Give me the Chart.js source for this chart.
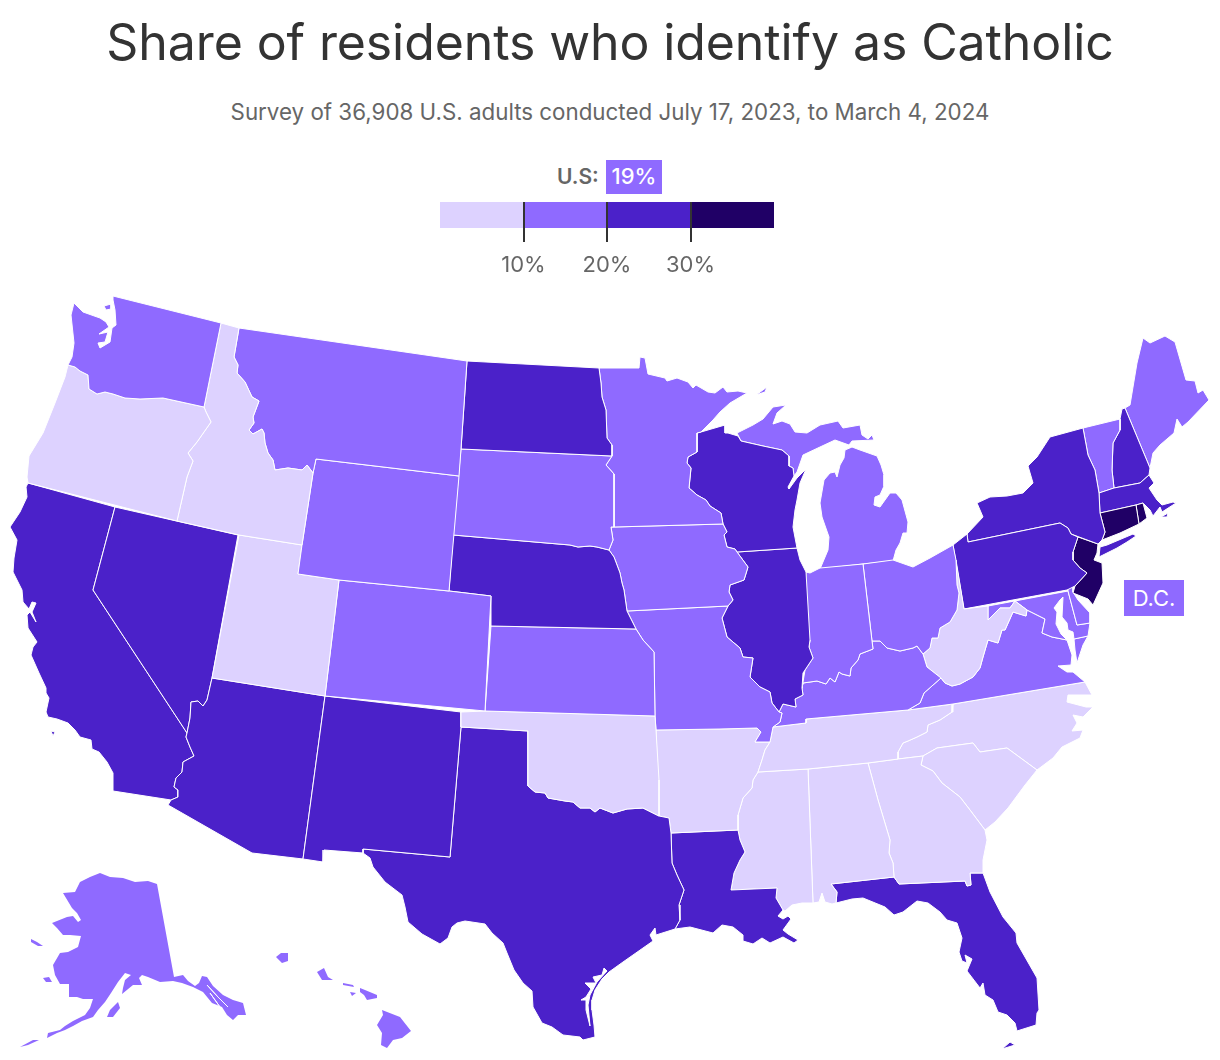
<!DOCTYPE html>
<html>
<head>
<meta charset="utf-8">
<title>Share of residents who identify as Catholic</title>
<script src="https://cdn.jsdelivr.net/npm/chart.js@4"></script>
<style>
  html, body { margin: 0; background: #fff; }
  body { position: relative; width: 1220px; height: 1060px; overflow: hidden; font-family: Inter, "Noto Sans", sans-serif; }
  canvas { position: absolute; }
  #map { left: 0; top: 0; }
  #scale { left: 419px; top: 202px; }
  h1 { position: absolute; left: 0; width: 1220px; top: 12px; margin: 0; text-align: center; font-size: 50px; letter-spacing: -0.1px; line-height: 60px; font-weight: 400; color: #333; }
  .sub { position: absolute; left: 0; width: 1220px; top: 97px; text-align: center; font-size: 22.35px; line-height: 30px; color: #666; }
  .us { position: absolute; left: 557px; top: 160px; line-height: 34px; font-size: 21px; font-weight: 600; color: #666; }
  .pill { position: absolute; background: #8f6aff; color: #fff; text-align: center; font-size: 22px; }
  #us-pill { left: 606px; top: 160px; width: 56px; height: 34px; line-height: 33px; font-weight: 500; }
  #dc-pill { left: 1124px; top: 580px; width: 60px; height: 36px; line-height: 36px; }
</style>
</head>
<body>
<h1>Share of residents who identify as Catholic</h1>
<div class="sub">Survey of 36,908 U.S. adults conducted July 17, 2023, to March 4, 2024</div>
<div class="us">U.S:</div>
<div class="pill" id="us-pill">19%</div>
<canvas id="scale" width="376" height="78"></canvas>
<canvas id="map" width="1220" height="1060"></canvas>
<div class="pill" id="dc-pill">D.C.</div>
<script>
// colour bins for the share values
var binEdges = [10, 20, 30, 40];
var binColors = ["#ddd2ff", "#8f6aff", "#4b21c9", "#200066"];
var scaleTicks = [10, 20, 30];

// estimated shares (%), only the bin can really be read off the map
var usShare = 19;
var dcShare = 12;
var stateShares = {
  AL: 8, AK: 12, AZ: 22, AR: 8, CA: 23, CO: 18, CT: 30, DE: 18, FL: 21, GA: 9, HI: 17, ID: 9, IL: 25,
  IN: 15, IA: 19, KS: 17, KY: 12, LA: 24, ME: 18, MD: 17, MA: 28, MI: 18, MN: 19, MS: 6, MO: 14, MT: 15,
  NE: 21, NV: 23, NH: 23, NJ: 31, NM: 29, NY: 26, NC: 8, ND: 27, OH: 16, OK: 8, OR: 9, PA: 23, RI: 32,
  SC: 6, SD: 19, TN: 7, TX: 23, UT: 9, VT: 18, VA: 13, WA: 14, WV: 6, WI: 22, WY: 14
};

// shared borders, map units, flat x,y lists
var waOr = [204,407, 163,398, 140,399, 125,398, 113,394, 105,392, 97,394, 89,389, 88,375, 80,371, 75,367, 68,365];
var orId = [204,407, 206,412, 211,422, 197,442, 188,453, 193,461, 187,477, 177,521];
var idMt = [239,328, 234,357, 238,365, 237,373, 245,382, 252,397, 259,401, 253,417, 254,423, 249,430, 253,434, 262,429, 264,433, 265,443, 268,453, 273,460, 275,470, 288,468, 302,470, 307,465, 313,473];
var caAz = [187,733, 186,737, 190,747, 194,756, 183,762, 182,772, 176,778, 174,787, 178,790, 178,797, 171,800];
var nvAz = [212,678, 207,700, 203,706, 198,701, 191,702, 190,718, 187,733];
var redRiver = [599,368, 601,383, 602,397, 606,410, 607,438, 612,445, 612,456];
var sdMn = [612,456, 606,465, 614,474, 614,527];
var sdIa = [614,527, 611,527, 613,540, 609,550];
var sdNe = [609,550, 597,547, 590,546, 578,547, 570,545, 453,535];
var neIa = [609,550, 614,557, 620,573, 622,583, 624,590, 627,611];
var mnWi = [701,432, 697,433, 697,452, 688,457, 687,463, 691,468, 689,488, 697,495, 706,500, 710,506, 721,513, 723,524];
var iaWi = [723,524, 727,532, 724,535, 727,547, 735,549, 737,552];
var iaIl = [737,552, 748,567, 744,580, 730,585, 729,592, 733,600, 728,606];
var moIl = [728,606, 722,618, 727,637, 740,648, 743,657, 753,658, 750,677, 760,687, 770,692, 772,703, 779,712];
var ilKy = [779,712, 783,704, 796,707, 795,699, 803,695, 802,688];
var ilIn = [802,688, 803,673, 813,658, 809,647, 810,640, 806,572];
var inKy = [802,688, 803,683, 817,681, 826,684, 830,678, 835,682, 839,672, 842,674, 850,676, 851,668, 858,660, 860,654, 873,649, 872,641];
var ohKy = [872,641, 880,641, 887,648, 900,651, 913,648, 917,646, 923,654];
var ohWv = [957,585, 959,593, 957,610, 950,622, 940,628, 938,638, 932,638, 930,648, 923,654];
var wvKy = [923,654, 927,667, 941,678];
var wvVa = [941,678, 945,683, 952,686, 960,684, 973,677, 980,668, 983,657, 988,640, 998,643, 1002,630, 1005,630, 1013,612, 1026,616, 1027,610];
var wvMd = [988,606, 988,620, 1000,608, 1010,608, 1015,601, 1027,610];
var kyVa = [941,678, 924,693, 920,703, 908,710];
var kyTn = [908,710, 806,719, 806,723, 773,727];
var moKy = [779,712, 782,713, 780,722, 773,727];
var tnAr = [773,727, 770,742, 765,750, 762,760, 758,772];
var tnNc = [953,704, 952,712, 940,720, 928,725, 927,732, 917,737, 908,741, 903,743, 898,752, 898,759];
var arMs = [758,772, 753,780, 752,788, 743,798, 738,815, 738,830];
var laMs = [738,830, 740,840, 745,852, 740,860, 734,873, 731,890, 777,888, 776,898, 783,910];
var okTx = [528,731, 528,780, 528,786, 535,792, 545,793, 548,798, 565,801, 573,802, 580,808, 590,808, 595,812, 600,808, 613,813, 627,809, 643,808, 659,816];
var arTx = [659,816, 669,818, 671,833];
var txLa = [671,833, 672,863, 677,875, 684,890, 679,905, 680,920, 675,929];
var alGa = [868,763, 878,800, 890,840, 889,853, 893,863, 894,877];
var gaFl = [894,877, 899,884, 965,881, 967,886, 971,885, 970,873, 983,873];
var alFl = [894,877, 831,884, 837,892, 836,903];
var gaSc = [921,765, 933,771, 942,783, 960,797, 970,810, 985,830];
var ncSc = [923,756, 937,748, 973,743, 980,752, 1007,748, 1037,770];
var nyPa = [968,542, 1060,523, 1068,528, 1071,534, 1078,537];
var paNj = [1078,537, 1073,552, 1073,560, 1080,568, 1087,573, 1075,586];
var nyVt = [1083,428, 1088,455, 1095,470, 1099,493];
var nyCt = [1100,513, 1105,532, 1102,540];
var vtNh = [1120,419, 1120,430, 1113,443, 1112,470, 1114,488];
var nhMe = [1125,408, 1150,468, 1149,475];
var vaMd = [1027,610, 1045,619, 1042,633, 1052,637, 1067,640];

function rev(list) {
  var out = [];
  for (var i = list.length - 2; i >= 0; i -= 2) out.push(list[i], list[i + 1]);
  return out;
}

// state outlines
var WA = [113,296, 221,323].concat(waOr, [72,357, 74,343, 71,315, 74,303, 83,312, 100,318, 106,322, 109,327, 99,334, 108,332, 105,342, 98,343, 100,348, 110,342, 112,328, 116,325, 115,310, 113,300]);
var WA2 = [104,306, 111,304, 111,309, 106,310];
var OR = rev(waOr).concat(orId.slice(2), [28,483, 27,477, 29,456, 43,433, 55,403, 65,377]);
var ID = [221,323, 239,328].concat(idMt.slice(2), [302,545, 239,535, 177,521], rev(orId));
var MT = [239,328, 467,361, 461,449, 459,476, 316,459].concat(rev(idMt));
var WY = [316,459, 459,476, 449,591, 339,580, 298,574, 302,545, 313,473];
var UT = [239,535, 302,545, 298,574, 339,580, 325,696, 212,678];
var CO = [339,580, 449,591, 491,596, 485,711, 325,696];
var ND = [467,361].concat(redRiver, [461,449]);
var SD = [461,449].concat(sdMn, sdIa.slice(2), sdNe.slice(2));
var NE = rev(sdNe).concat(neIa.slice(2), [636,629, 491,626, 491,596, 449,591]);
var KS = [491,626, 636,629, 643,640, 654,652, 655,716, 485,711];
var OK = [461,712, 485,711, 655,716, 656,730, 659,780].concat(rev(okTx), [461,727]);
var NM = [325,696, 461,712, 461,727, 450,857, 363,849, 363,853, 324,850, 323,862, 303,859];
var AZ = [325,696, 303,859, 252,853, 168,805].concat(rev(caAz), rev(nvAz));
var NV = [115,507, 238,535, 212,678].concat(nvAz.slice(2), [93,590]);
var CA = [28,483, 115,507, 93,590].concat(caAz, [113,791, 113,773, 107,762, 99,752, 92,749, 91,740, 80,737, 75,730, 68,723, 57,719, 48,717, 46,712, 49,698, 46,693, 46,688, 39,673, 31,655, 33,647, 37,642, 28,628, 27,615, 30,612, 36,622, 32,612, 36,603, 32,602, 29,609, 23,602, 22,590, 13,572, 14,558, 17,540, 10,527, 20,512, 27,497, 26,487]);
var CA2 = [51,731, 55,732, 53,736];
var TX = [461,727].concat(okTx, arTx.slice(2), txLa.slice(2), [656,935, 655,928, 650,935, 653,941, 643,948, 623,962, 609,972, 602,979, 595,990, 592,1000, 592,1010, 594,1025, 595,1037, 583,1040, 580,1037, 563,1035, 552,1027, 542,1023, 533,1007, 532,991, 523,983, 514,970, 507,953, 503,943, 492,933, 485,924, 465,921, 457,923, 452,927, 448,938, 440,944, 422,934, 408,922, 405,907, 402,895, 385,882, 373,867, 370,858, 363,853, 363,849, 450,857]);
var MN = rev(redRiver).concat([639,368, 640,357, 645,358, 648,374, 665,378, 667,381, 677,378, 688,382, 693,388, 696,385, 708,392, 715,393, 723,387, 727,392, 738,391, 747,393, 730,403, 720,412, 713,420], mnWi, [614,527], rev(sdMn).slice(2));
var MN2 = [756,395, 767,387, 765,392];
var IA = [611,527, 614,527, 723,524].concat(iaWi.slice(2), iaIl.slice(2), [627,611], rev(neIa).slice(2), [613,540]);
var MO = [627,611].concat(moIl, moKy.slice(2), [770,742, 755,742, 761,732, 757,728, 720,729, 656,730, 655,716, 654,652, 643,640, 636,629]);
var WI = [701,432, 725,425, 725,433, 728,433, 738,436, 741,441, 763,446, 782,450, 789,456, 789,466, 793,468, 794,476, 788,487, 789,489, 797,478, 806,469, 800,483, 797,500, 795,510, 793,527, 797,548, 737,552].concat(rev(iaWi).slice(2), rev(mnWi).slice(2));
var IL = [737,552, 797,548, 800,560, 806,572].concat(rev(ilIn).slice(2), rev(ilKy).slice(2), rev(moIl).slice(2), rev(iaIl).slice(2));
var IN = [806,572, 810,573, 820,568, 863,564, 872,641].concat(rev(inKy).slice(2), rev(ilIn).slice(2));
var OH = [863,564, 893,560, 913,567, 930,558, 953,545, 956,560].concat(ohWv, rev(ohKy).slice(2));
var MIup = [741,441, 737,433, 753,425, 763,419, 773,407, 786,405, 777,413, 773,424, 782,421, 790,424, 795,432, 807,433, 820,425, 838,421, 843,428, 860,425, 862,435, 868,439, 872,435, 874,440, 852,441, 849,445, 835,440, 820,447, 803,455, 797,472, 794,476, 793,468, 789,466, 789,456, 782,450, 763,446];
var MIlow = [852,447, 860,450, 877,456, 881,465, 884,475, 884,486, 880,495, 875,497, 874,505, 880,507, 890,493, 896,493, 902,500, 908,522, 907,533, 903,533, 900,543, 896,550, 893,561, 863,564, 820,569, 828,550, 829,537, 822,517, 820,503, 824,480, 830,473, 835,472, 837,477, 840,465, 844,458, 845,450];
var KY = ohKy.concat(wvKy.slice(2), kyVa.slice(2), kyTn.slice(2), rev(moKy).slice(2), ilKy.slice(2), inKy.slice(2, -2));
var WV = [956,560].concat(ohWv, wvKy.slice(2), wvVa, rev(wvMd).slice(2), [964,609]);
var PA = [953,545, 967,534].concat(nyPa, paNj.slice(2), [1067,590, 964,609]);
var NY = [967,534, 983,517, 977,503, 990,497, 1007,496, 1023,493, 1033,483, 1028,466, 1037,457, 1050,437].concat(nyVt, nyCt, [1098,544], rev(nyPa).slice(2));
var NYli = [1099,557, 1100,547, 1107,545, 1133,534, 1136,536, 1127,542, 1117,548];
var NJ = [1078,537, 1098,544, 1097,553, 1094,560, 1102,563, 1103,583, 1093,605, 1088,599, 1073,593].concat(rev(paNj).slice(0, -2));
var CT = [1100,513, 1136,505, 1139,524, 1120,533, 1102,540, 1105,532];
var RI = [1136,505, 1143,503, 1147,518, 1139,524];
var MA = [1099,493, 1114,488, 1140,483, 1149,475, 1154,483, 1149,488, 1157,500, 1162,505, 1173,502, 1176,503, 1162,512, 1160,507, 1153,516, 1150,510, 1143,503, 1136,505, 1100,513];
var MA2 = [1161,517, 1168,513, 1167,517];
var VT = [1083,428].concat(vtNh, [1099,493], rev(nyVt).slice(2, -2));
var NH = [1122,409, 1125,408].concat(nhMe.slice(2), [1140,483], rev(vtNh));
var ME = [1125,408, 1130,405, 1137,363, 1143,338, 1150,343, 1165,336, 1175,342, 1186,380, 1195,381, 1198,393, 1203,390, 1209,400, 1188,422, 1182,427, 1177,419, 1174,433, 1160,445, 1153,453, 1150,468];
var DE = [1068,591, 1068,587, 1073,585, 1073,592, 1078,600, 1090,613, 1090,623, 1077,625];
var MD = [988,606, 1068,591, 1077,625, 1090,623, 1088,636, 1074,639, 1073,632, 1068,630, 1067,623, 1062,617, 1063,597, 1060,600, 1054,608, 1057,612, 1056,624, 1061,634, 1067,640, 1052,637, 1042,633, 1045,619].concat(rev(wvMd));
var VA = vaMd.concat([1072,655, 1071,665, 1058,666, 1067,672, 1073,672, 1085,682, 953,704, 908,710], rev(kyVa).slice(2), wvVa.slice(2));
var VA2 = [1074,639, 1088,636, 1083,645, 1077,663, 1075,650];
var TN = rev(kyTn).concat([953,704], tnNc.slice(2), [868,763, 808,769], rev(tnAr));
var AR = [656,730, 720,729, 757,728, 761,732, 755,742, 770,742].concat(tnAr.slice(4), arMs.slice(2), [671,833, 669,818, 659,816]);
var LA = [671,833].concat(arMs.slice(-2), laMs.slice(2), [778,916, 783,919, 788,916, 791,919, 783,930, 788,934, 798,940, 794,943, 783,937, 770,943, 762,938, 753,944, 743,941, 743,935, 733,927, 722,925, 713,933, 690,927], rev(txLa).slice(0, -2));
var MS = [758,772, 808,769, 813,903, 802,903, 792,905, 785,911, 783,910].concat(rev(laMs).slice(2), rev(arMs).slice(2));
var AL = [808,769].concat(alGa, alFl.slice(2), [832,904, 825,902, 822,893, 819,902, 813,903]);
var GA = alGa.concat(gaFl.slice(2), [983,860, 987,840], rev(gaSc), [923,756, 898,759]);
var SC = ncSc.concat([1025,785, 1008,808, 995,822], rev(gaSc));
var NC = [953,704, 1085,682, 1092,695, 1085,695, 1068,695, 1067,702, 1086,707, 1093,707, 1083,717, 1073,715, 1077,723, 1072,731, 1083,730, 1080,738, 1062,747, 1053,758].concat(rev(ncSc), rev(tnNc).slice(0, -2));
var FL = [831,884].concat(gaFl, [990,892, 1003,917, 1016,933, 1017,943, 1037,978, 1039,1010, 1037,1013, 1036,1025, 1017,1031, 1015,1023, 1007,1015, 998,1012, 993,1000, 985,995, 983,983, 980,988, 967,971, 972,959, 965,955, 967,963, 962,961, 959,952, 962,938, 957,923, 947,920, 940,912, 928,903, 917,901, 903,912, 894,915, 885,907, 863,898, 852,899, 836,903, 837,892]);
var FL2 = [1002,1049, 1010,1042, 1015,1045];

var AK = [157,884, 174,977, 183,975, 188,981, 195,986, 199,983, 202,976, 207,977, 213,986, 223,995, 233,1000, 243,1003, 246,1015, 238,1015, 233,1020, 227,1015, 222,1007, 212,1003, 203,992, 193,987, 182,983, 173,981, 160,982, 148,977, 142,975, 139,978, 142,985, 133,985, 122,994, 123,988, 125,980, 131,975, 125,973, 118,982, 111,993, 105,1002, 98,1010, 93,1017, 82,1021, 73,1026, 65,1030, 57,1033, 47,1038, 48,1033, 60,1030, 65,1026, 73,1021, 85,1015, 90,1008, 93,999, 83,999, 77,997, 69,997, 69,984, 60,984, 55,975, 53,965, 60,953, 68,952, 78,947, 81,936, 70,935, 63,935, 57,928, 52,923, 67,917, 73,916, 78,922, 81,920, 77,913, 72,908, 63,893, 75,892, 80,882, 90,877, 100,873, 110,877, 123,878, 135,882, 148,881];
var AK2 = [107,1017, 110,1010, 118,1002, 120,1008, 113,1017];
var AK3 = [31,939, 37,942, 43,946, 38,946, 31,942];
var AK4 = [43,978, 49,977, 52,982, 46,982];
var AK5 = [20,1047, 33,1040, 39,1040, 28,1045];
var HI1 = [276,957, 281,953, 288,953, 288,961, 282,963];
var HI2 = [317,972, 324,968, 328,977, 333,980, 322,980];
var HI3 = [343,983, 353,985, 354,987, 343,985];
var HI4 = [350,992, 356,993, 352,996];
var HI5 = [360,988, 365,990, 377,995, 377,998, 367,1000, 364,995, 360,992];
var HI6 = [382,1010, 400,1017, 411,1031, 402,1038, 393,1040, 387,1048, 381,1045, 382,1033, 377,1025, 383,1015];

// water drawn over the land
var lagoon = [590,1026, 586,1010, 586,1000, 581,1000, 586,997, 591,989, 585,983, 596,983, 593,977, 602,975, 604,968, 607,971, 597,982, 590,995, 588,1005];
var akChannel1 = [207,985, 218,997, 228,1007, 218,997];
var akChannel2 = [210,993, 220,1007, 210,993];

var stateParts = [
  ["WA", WA], ["WA", WA2], ["OR", OR], ["ID", ID], ["MT", MT], ["WY", WY], ["UT", UT], ["CO", CO], ["ND", ND], ["SD", SD],
  ["NE", NE], ["KS", KS], ["OK", OK], ["NM", NM], ["AZ", AZ], ["NV", NV], ["CA", CA], ["CA", CA2], ["TX", TX], ["MN", MN],
  ["MN", MN2], ["IA", IA], ["MO", MO], ["WI", WI], ["IL", IL], ["IN", IN], ["OH", OH], ["MI", MIup], ["MI", MIlow], ["KY", KY],
  ["WV", WV], ["PA", PA], ["NY", NY], ["NY", NYli], ["NJ", NJ], ["CT", CT], ["RI", RI], ["MA", MA], ["MA", MA2], ["VT", VT],
  ["NH", NH], ["ME", ME], ["DE", DE], ["MD", MD], ["VA", VA], ["VA", VA2], ["TN", TN], ["AR", AR], ["LA", LA], ["MS", MS],
  ["AL", AL], ["GA", GA], ["SC", SC], ["NC", NC], ["FL", FL], ["FL", FL2], ["AK", AK], ["AK", AK2], ["AK", AK3], ["AK", AK4],
  ["AK", AK5], ["HI", HI1], ["HI", HI2], ["HI", HI3], ["HI", HI4], ["HI", HI5], ["HI", HI6]
];
var waterParts = [lagoon, akChannel1, akChannel2];

function binColor(v) {
  for (var i = 0; i < binEdges.length; i++) if (v < binEdges[i]) return binColors[i];
  return binColors[binColors.length - 1];
}

function toPoints(flat) {
  var pts = [];
  for (var i = 0; i < flat.length; i += 2) pts.push({ x: flat[i], y: flat[i + 1] });
  pts.push({ x: flat[0], y: flat[1] });
  return pts;
}

var datasets = stateParts.map(function (p) {
  return {
    label: p[0],
    data: toPoints(p[1]),
    showLine: true,
    fill: "shape",
    backgroundColor: binColor(stateShares[p[0]]),
    borderColor: "#fff",
    // the two off-shore insets have no neighbours, a white edge only eats into them
    borderWidth: p[0] === "AK" || p[0] === "HI" ? 0 : 1,
    borderJoinStyle: "round",
    pointRadius: 0,
    tension: 0
  };
});
waterParts.forEach(function (w) {
  datasets.unshift({ label: "water", data: toPoints(w), showLine: true, fill: "shape", backgroundColor: "#fff", borderColor: "#fff", borderWidth: 1, pointRadius: 0 });
});

new Chart(document.getElementById("map"), {
  type: "scatter",
  data: { datasets: datasets },
  options: {
    responsive: false,
    animation: false,
    layout: { padding: 0 },
    plugins: { legend: { display: false }, tooltip: { enabled: false } },
    scales: {
      x: { display: false, min: 0, max: 1220 },
      y: { display: false, min: 0, max: 1060, reverse: true }
    }
  }
});

// colour scale above the map
var scaleDatasets = binColors.map(function (c, i) {
  return { data: [binEdges[i] - (i ? binEdges[i - 1] : 0)], backgroundColor: c, categoryPercentage: 1, barPercentage: 1 };
});

new Chart(document.getElementById("scale"), {
  type: "bar",
  data: { labels: ["share"], datasets: scaleDatasets },
  options: {
    indexAxis: "y",
    responsive: false,
    animation: false,
    layout: { padding: { left: 21, right: 21 } },
    plugins: { legend: { display: false }, tooltip: { enabled: false } },
    scales: {
      y: { display: false, stacked: true },
      x: {
        stacked: true,
        min: 0,
        max: 40,
        border: { display: false },
        afterFit: function (s) { s.height = 52; },
        afterBuildTicks: function (s) { s.ticks = scaleTicks.map(function (v) { return { value: v }; }); },
        grid: { z: 1, color: "#333", lineWidth: 2, tickLength: 14 },
        ticks: { color: "#666", padding: 10, maxRotation: 0, font: { family: "Inter", size: 22 }, callback: function (v) { return v + "%"; } }
      }
    }
  }
});
</script>
</body>
</html>
